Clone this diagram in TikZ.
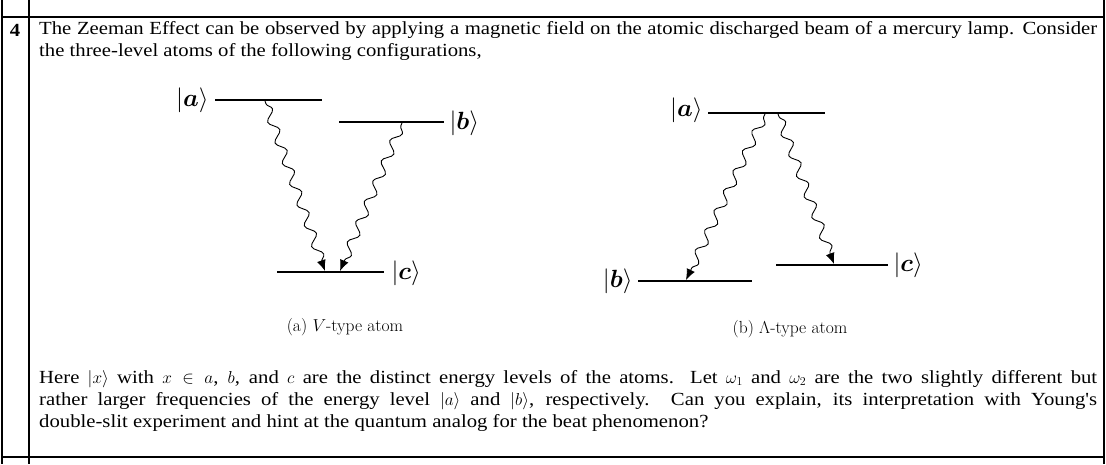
\documentclass[tikz,border=0pt]{standalone}
\usepackage{fontspec}
\usepackage{amsmath}
\usepackage{bm}
\newfontfamily\tnr[FakeStretch=1.12]{Liberation Serif}
\usetikzlibrary{decorations.pathmorphing,arrows.meta}
\begin{document}
\begin{tikzpicture}[x=1pt,y=-1pt,
  lvl/.style={line width=1.8pt},
  rule/.style={line width=1.3pt},
  wave/.style={decorate,decoration={snake,amplitude=4.5pt,segment length=22pt,pre length=3pt,post length=9pt},-{Latex[length=11pt,width=9pt]},line width=0.9pt},
  lab/.style={font=\fontsize{24}{24}\selectfont},
  body/.style={font=\tnr\fontsize{18.5}{22}\selectfont,text width=1058pt,align=justify,inner sep=0pt,anchor=north west}]
\useasboundingbox (0,0) rectangle (1106,464);
\draw[rule] (2,0) -- (2,464);
\draw[rule] (29,0) -- (29,464);
\draw[rule] (1104,0) -- (1104,464);
\draw[rule] (2,17) -- (1104,17);
\draw[rule] (2,457) -- (1104,457);
\node[font=\tnr\bfseries\fontsize{18.5}{18}\selectfont] (num) at (15,30) {4};
\node[body] (t1) at (39,21) {The Zeeman Effect can be observed by applying a magnetic field on the atomic discharged beam of a mercury lamp. Consider\linebreak the three-level atoms of the following configurations,};
% V-type
\coordinate (a1) at (215,100); \coordinate (a2) at (322,100);
\coordinate (b1) at (339,122); \coordinate (b2) at (444,122);
\coordinate (c1) at (277,272); \coordinate (c2) at (384,272);
\draw[lvl] (a1) -- (a2); \draw[lvl] (b1) -- (b2); \draw[lvl] (c1) -- (c2);
\node[lab,anchor=east] (la) at (212,100) {$|\bm{a}\rangle$};
\node[lab,anchor=west] (lb) at (446,123) {$|\bm{b}\rangle$};
\node[lab,anchor=west] (lc) at (388,273) {$|\bm{c}\rangle$};
\coordinate (w1s) at (265,101); \coordinate (w1e) at (325,271);
\coordinate (w2s) at (402,123); \coordinate (w2e) at (340,271);
\draw[wave] (w1s) -- (w1e);
\draw[wave] (w2s) -- (w2e);
\node[font=\fontsize{17.5}{17.5}\selectfont] (capa) at (345,327) {(a) $V$-type atom};
% Lambda-type
\coordinate (A1) at (708,113); \coordinate (A2) at (825,113);
\coordinate (B1) at (638,281); \coordinate (B2) at (752,281);
\coordinate (C1) at (776,265); \coordinate (C2) at (888,265);
\draw[lvl] (A1) -- (A2); \draw[lvl] (B1) -- (B2); \draw[lvl] (C1) -- (C2);
\node[lab,anchor=east] (lA) at (706,110) {$|\bm{a}\rangle$};
\node[lab,anchor=east] (lB) at (636,281) {$|\bm{b}\rangle$};
\node[lab,anchor=west] (lC) at (890,265) {$|\bm{c}\rangle$};
\coordinate (v1s) at (765,114); \coordinate (v1e) at (686,280);
\coordinate (v2s) at (778,114); \coordinate (v2e) at (834,264);
\draw[wave] (v1s) -- (v1e);
\draw[wave] (v2s) -- (v2e);
\node[font=\fontsize{17.5}{17.5}\selectfont] (capb) at (790,329) {(b) $\Lambda$-type atom};
\node[body] (t2) at (39,370) {Here $|x\rangle$ with $x\in a$, $b$, and $c$ are the distinct energy levels of the atoms. Let $\omega_1$ and $\omega_2$ are the two slightly different but\linebreak rather larger frequencies of the energy level $|a\rangle$ and $|b\rangle$, respectively. Can you explain, its interpretation with Young's\linebreak double-slit experiment and hint at the quantum analog for the beat phenomenon?};
\end{tikzpicture}
\end{document}
